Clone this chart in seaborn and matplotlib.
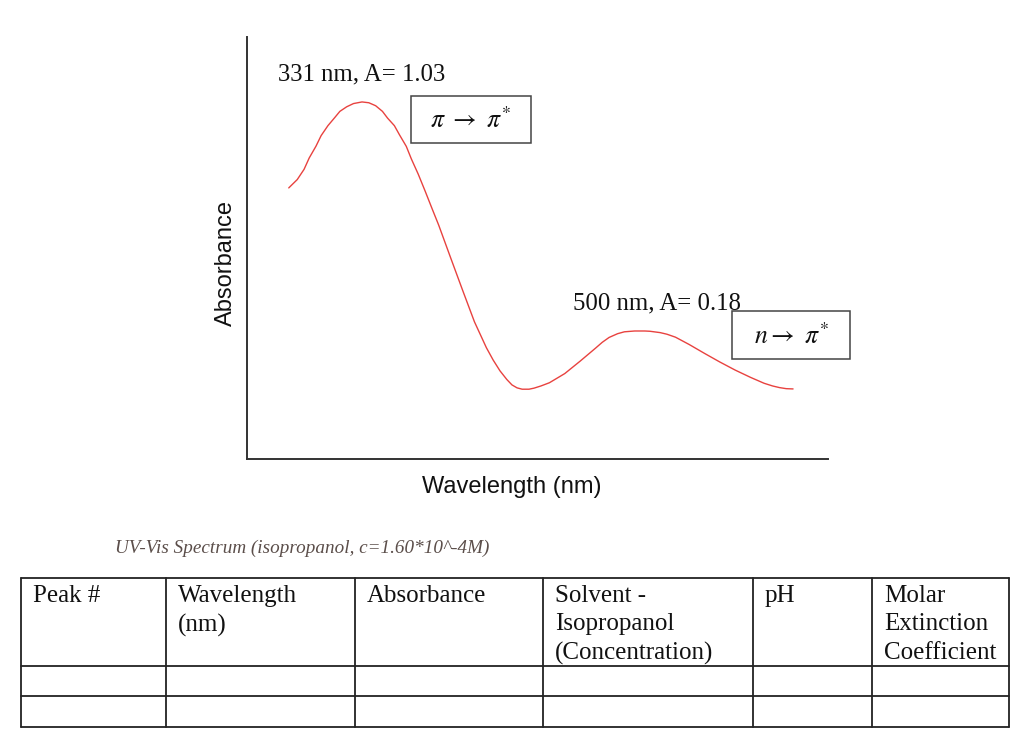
import pandas as pd
import seaborn as sns
import matplotlib.pyplot as plt
from matplotlib.patches import Rectangle

# spectrum (nm, absorbance)
wavelength = [288, 293, 297, 300, 304, 307, 311, 315, 318, 322, 326, 331, 335,
              339, 343, 346, 350, 353, 357, 360, 364, 368, 372, 376, 383, 390,
              397, 404, 408, 412, 416, 419, 422, 425, 429, 432, 436, 441, 450,
              459, 468, 472, 476, 481, 485, 491, 497, 500, 506, 510, 515, 523,
              532, 541, 550, 559, 567, 572, 576, 580, 584]
absorbance = [0.711, 0.742, 0.780, 0.822, 0.866, 0.905, 0.942, 0.972, 0.995,
              1.012, 1.024, 1.03, 1.027, 1.016, 0.995, 0.970, 0.942, 0.908,
              0.865, 0.818, 0.762, 0.700, 0.636, 0.573, 0.452, 0.332, 0.214,
              0.118, 0.072, 0.032, 0.000, -0.020, -0.031, -0.036, -0.036,
              -0.032, -0.024, -0.012, 0.022, 0.068, 0.116, 0.138, 0.156, 0.170,
              0.177, 0.180, 0.180, 0.179, 0.174, 0.168, 0.157, 0.130, 0.097,
              0.065, 0.035, 0.008, -0.014, -0.024, -0.030, -0.034, -0.035]

peak_labels = ["331 nm, A= 1.03", "500 nm, A= 0.18"]
transitions = [r"$\pi\ \rightarrow\ \pi^{*}$", r"$n\rightarrow\ \pi^{*}$"]
caption = "UV-Vis Spectrum (isopropanol, c=1.60*10^-4M)"
table_header = ["Peak #", "Wavelength\n(nm)", "Absorbance",
                "Solvent -\nIsopropanol\n(Concentration)", "pH",
                "Molar\nExtinction\nCoefficient"]

df = pd.DataFrame({"wavelength": wavelength, "absorbance": absorbance})

sns.set_style("white")
plt.rcParams["mathtext.fontset"] = "stix"

W, H = 1024, 750
fig = plt.figure(figsize=(W / 100, H / 100), dpi=100)

# main plot axes
ax = fig.add_axes([247 / W, 1 - 459 / H, 581 / W, 422 / H])
sns.lineplot(data=df, x="wavelength", y="absorbance", color="#e8423f",
             linewidth=1.0, ax=ax)
ax.set_xlim(263.5, 604.5)
ax.set_ylim(-0.295, 1.271)
ax.set_xticks([])
ax.set_yticks([])
ax.set_xlabel("")
ax.set_ylabel("")
for side in ["top", "right"]:
    ax.spines[side].set_visible(False)
for side in ["left", "bottom"]:
    ax.spines[side].set_color("#333333")
    ax.spines[side].set_linewidth(1.4)
ax.patch.set_alpha(0)

# overlay in pixel coords for labels, boxes and the table
ov = fig.add_axes([0, 0, 1, 1])
ov.set_xlim(0, W)
ov.set_ylim(H, 0)
ov.axis("off")
ov.patch.set_alpha(0)

sans = "Liberation Sans"
serif = "Liberation Serif"

ov.text(226, 263, "Absorbance", rotation=90, ha="center", va="center",
        fontsize=17, family=sans, color="#111111")
ov.text(512, 487, "Wavelength (nm)", ha="center", va="center",
        fontsize=17, family=sans, color="#111111")

ov.text(278, 74, peak_labels[0], ha="left", va="center", fontsize=17.8,
        family=serif, color="#111111")
ov.text(573, 303, peak_labels[1], ha="left", va="center", fontsize=17.8,
        family=serif, color="#111111")

ov.add_patch(Rectangle((411, 96), 120, 47, fill=False, edgecolor="#444444",
                       linewidth=1.1))
ov.text(471, 121, transitions[0], ha="center", va="center", fontsize=18.5,
        color="#111111")
ov.add_patch(Rectangle((732, 311), 118, 48, fill=False, edgecolor="#444444",
                       linewidth=1.1))
ov.text(791, 337, transitions[1], ha="center", va="center", fontsize=18.5,
        color="#111111")

ov.text(115, 548, caption, ha="left", va="center", fontsize=13.8,
        family=serif, style="italic", color="#5b4e4a")

# table grid
col_edges = [21, 166, 355, 543, 753, 872, 1009]
row_edges = [578, 666, 696, 727]
for yy in row_edges:
    ov.plot([col_edges[0], col_edges[-1]], [yy, yy], color="#222222", lw=1.3)
for xx in col_edges:
    ov.plot([xx, xx], [row_edges[0], row_edges[-1]], color="#222222", lw=1.3)
for xx, label in zip(col_edges[:-1], table_header):
    ov.text(xx + 12, 585, label, ha="left", va="top", fontsize=18,
            family=serif, color="#111111", linespacing=1.38)

fig.savefig("out.png", dpi=100)
